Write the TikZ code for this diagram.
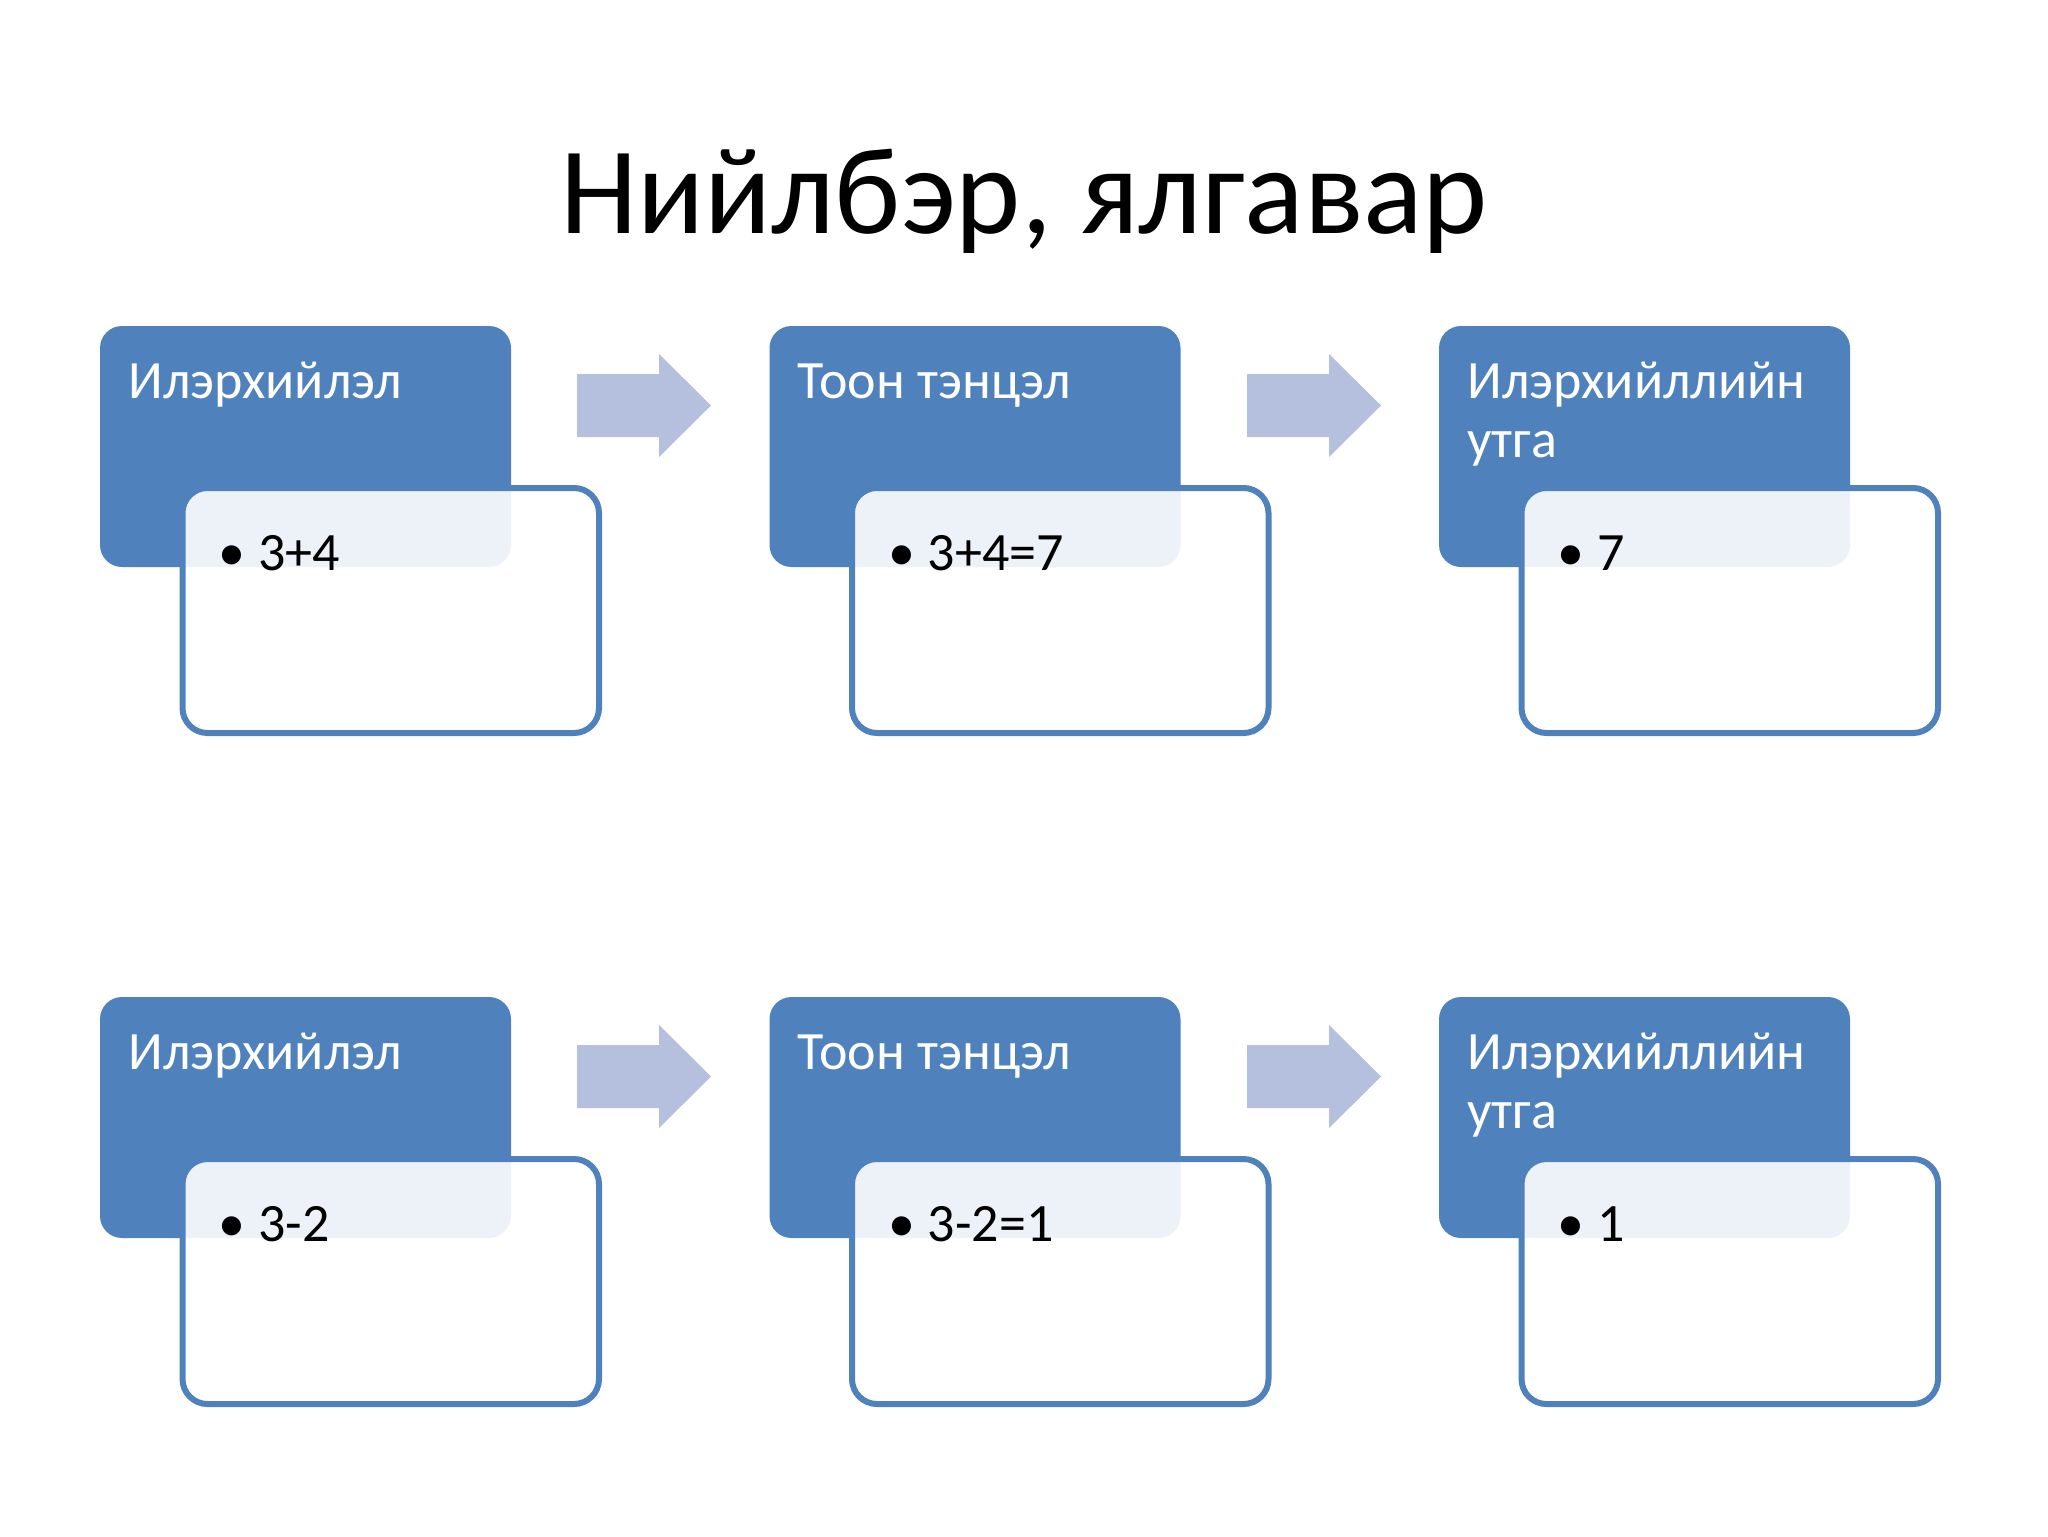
\documentclass[tikz,border=0pt]{standalone}
\usepackage{fontspec}
\setmainfont{Carlito}
\definecolor{acc}{HTML}{4F81BD}
\definecolor{arrcol}{HTML}{B4C0DD}
\tikzset{
  hdrbox/.style={fill=acc, draw=none, rounded corners=11pt, inner sep=0pt,
    outer sep=0pt, minimum width=205.5pt, minimum height=120.5pt, anchor=north west},
  bodybox/.style={draw=acc, line width=3pt, fill=white, fill opacity=0.9,
    rounded corners=12.5pt, inner sep=0pt, outer sep=0pt,
    minimum width=208.25pt, minimum height=122.5pt, anchor=north west},
  hdrtext/.style={text=white, font=\fontsize{27pt}{29.5pt}\selectfont,
    inner sep=0pt, align=left, anchor=base west},
  bultext/.style={text=black, font=\fontsize{27pt}{29.5pt}\selectfont,
    inner sep=0pt, anchor=base west},
  bulmark/.style={text=black, font=\fontsize{27pt}{29.5pt}\selectfont,
    inner sep=0pt, anchor=base},
  flowarrow/.style={fill=arrcol, draw=none}
}
% #1,#2 shift; #3 header; #4 bullet text; #5 name; #6 header last-line baseline
\newcommand\myunit[6]{%
  \begin{scope}[shift={(#1,#2)}]
    \node[hdrbox] (h#5) at (100,326) {};
    \node[hdrtext] (ht#5) at (128,#6) {#3};
    \node[bodybox] (b#5) at (182.5,488) {};
    \node[bulmark] (bm#5) at (232,570) {•};
    \node[bultext] (bt#5) at (258,570) {#4};
  \end{scope}}
\newcommand\myarrow[3]{%
  \begin{scope}[shift={(#1,#2)}]
    \coordinate (a#3) at (577,374);
    \fill[flowarrow] (a#3) -- (659,374) -- (659,354) -- (711,405.5)
      -- (659,457) -- (659,437) -- (577,437) -- cycle;
  \end{scope}}
\begin{document}
\begin{tikzpicture}[x=0.5pt,y=-0.5pt]
\path[use as bounding box, fill=white] (0,0) rectangle (2048,1536);
\node[font=\fontsize{62pt}{68pt}\selectfont, inner sep=0pt, anchor=base] (title)
  at (1024,233) {Нийлбэр, ялгавар};
% row 1
\myunit{0}{0}{Илэрхийлэл}{3+4}{11}{398}
\myunit{669.5}{0}{Тоон тэнцэл}{3+4=7}{12}{398}
\myunit{1339}{0}{Илэрхийллийн\\утга}{7}{13}{457}
\myarrow{0}{0}{11}
\myarrow{670}{0}{12}
% row 2
\myunit{0}{671}{Илэрхийлэл}{3-2}{21}{398}
\myunit{669.5}{671}{Тоон тэнцэл}{3-2=1}{22}{398}
\myunit{1339}{671}{Илэрхийллийн\\утга}{1}{23}{457}
\myarrow{0}{671}{21}
\myarrow{670}{671}{22}
\end{tikzpicture}
\end{document}
